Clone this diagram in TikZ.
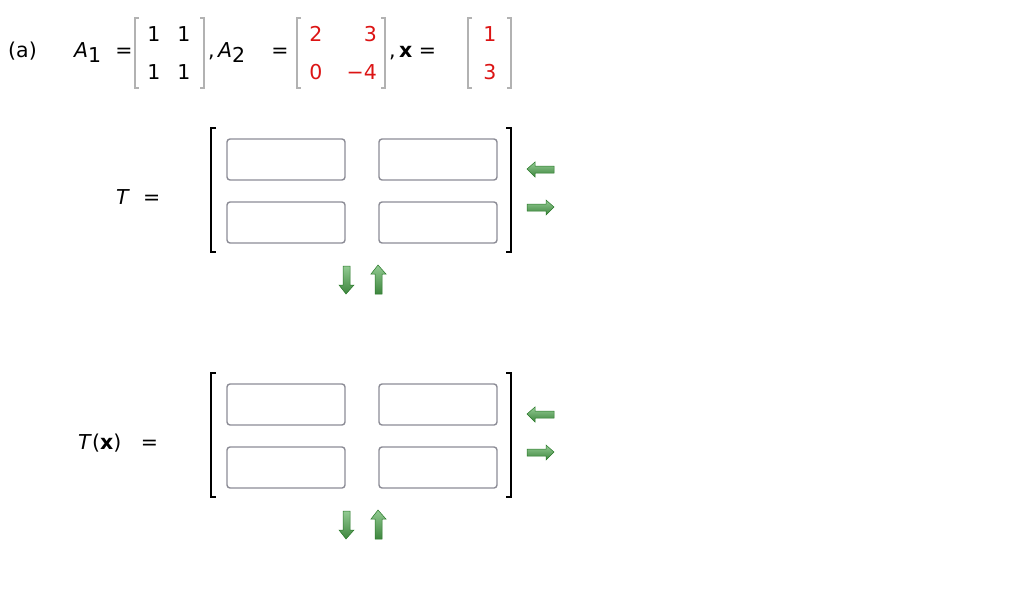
\documentclass[tikz,border=0pt]{standalone}
\usepackage{fontspec}
\setmainfont{DejaVu Sans}
\definecolor{red1}{RGB}{220,20,20}
\definecolor{boxc}{RGB}{140,140,150}
\definecolor{grn}{RGB}{100,180,100}
\definecolor{grnd}{RGB}{40,120,40}
\begin{document}
\begin{tikzpicture}[x=1pt,y=-1pt,
  t/.style={inner sep=0pt,font=\fontsize{20.5}{24}\selectfont},
  ibox/.style={draw=boxc,line width=1.4pt,rounded corners=3pt},
  brk/.style={line width=1.6pt},
  gbrk/.style={line width=1.8pt,draw=gray!60},
  garr/.style={top color=grn!70,bottom color=grnd!90,draw=grnd,line width=0.5pt}]
\useasboundingbox (0,0) rectangle (1010,592);
% top row
\node[t,anchor=base west] (a) at (8,57) {(a)};
\node[t,anchor=base west] (A1) at (74,57) {\textit{A}\raisebox{-5pt}{1}};
\node[t,anchor=base] (e1) at (124,57) {=};
\draw[gbrk] (139,18)--(135,18)--(135,88)--(139,88);
\draw[gbrk] (200,18)--(204,18)--(204,88)--(200,88);
\node[t,anchor=base] (m11) at (154,41) {1};
\node[t,anchor=base] (m12) at (184,41) {1};
\node[t,anchor=base] (m21) at (154,79) {1};
\node[t,anchor=base] (m22) at (184,79) {1};
\node[t,anchor=base west] (A2) at (208,57) {,\,\textit{A}\raisebox{-5pt}{2}};
\node[t,anchor=base] (e2) at (280,57) {=};
\draw[gbrk] (301,18)--(297,18)--(297,88)--(301,88);
\draw[gbrk] (381,18)--(385,18)--(385,88)--(381,88);
\node[t,anchor=base,text=red1] (n11) at (316,41) {2};
\node[t,anchor=base east,text=red1] (n12) at (377,41) {3};
\node[t,anchor=base,text=red1] (n21) at (316,79) {0};
\node[t,anchor=base east,text=red1] (n22) at (377,79) {−4};
\node[t,anchor=base west] (xl) at (389,57) {,\,\textbf{x} =};
\draw[gbrk] (472,18)--(468,18)--(468,88)--(472,88);
\draw[gbrk] (507,18)--(511,18)--(511,88)--(507,88);
\node[t,anchor=base,text=red1] (v1) at (490,41) {1};
\node[t,anchor=base,text=red1] (v2) at (490,79) {3};
% matrices
\foreach \nm/\dy/\lab/\lx in {T/0/{\textit{T} \ =}/116, Tx/245/{\textit{T}(\textbf{x}) \ \ =}/78}{
  \node[t,anchor=base west] (\nm lab) at (\lx,204+\dy) {\lab};
  \draw[brk] (216,128+\dy)--(211,128+\dy)--(211,252+\dy)--(216,252+\dy);
  \draw[brk] (506,128+\dy)--(511,128+\dy)--(511,252+\dy)--(506,252+\dy);
  \draw[ibox] (227,139+\dy) rectangle (345,180+\dy);
  \draw[ibox] (379,139+\dy) rectangle (497,180+\dy);
  \draw[ibox] (227,202+\dy) rectangle (345,243+\dy);
  \draw[ibox] (379,202+\dy) rectangle (497,243+\dy);
  \draw[garr] (527,169+\dy)--(535,162+\dy)--(535,166+\dy)--(554,166+\dy)--(554,173+\dy)--(535,173+\dy)--(535,177+\dy)--cycle;
  \draw[garr] (554,207+\dy)--(546,200+\dy)--(546,204+\dy)--(527,204+\dy)--(527,211+\dy)--(546,211+\dy)--(546,215+\dy)--cycle;
  \draw[garr] (346,294+\dy)--(339,285+\dy)--(343,285+\dy)--(343,266+\dy)--(350,266+\dy)--(350,285+\dy)--(354,285+\dy)--cycle;
  \draw[garr] (378,265+\dy)--(371,274+\dy)--(375,274+\dy)--(375,294+\dy)--(382,294+\dy)--(382,274+\dy)--(386,274+\dy)--cycle;
}
\end{tikzpicture}
\end{document}
